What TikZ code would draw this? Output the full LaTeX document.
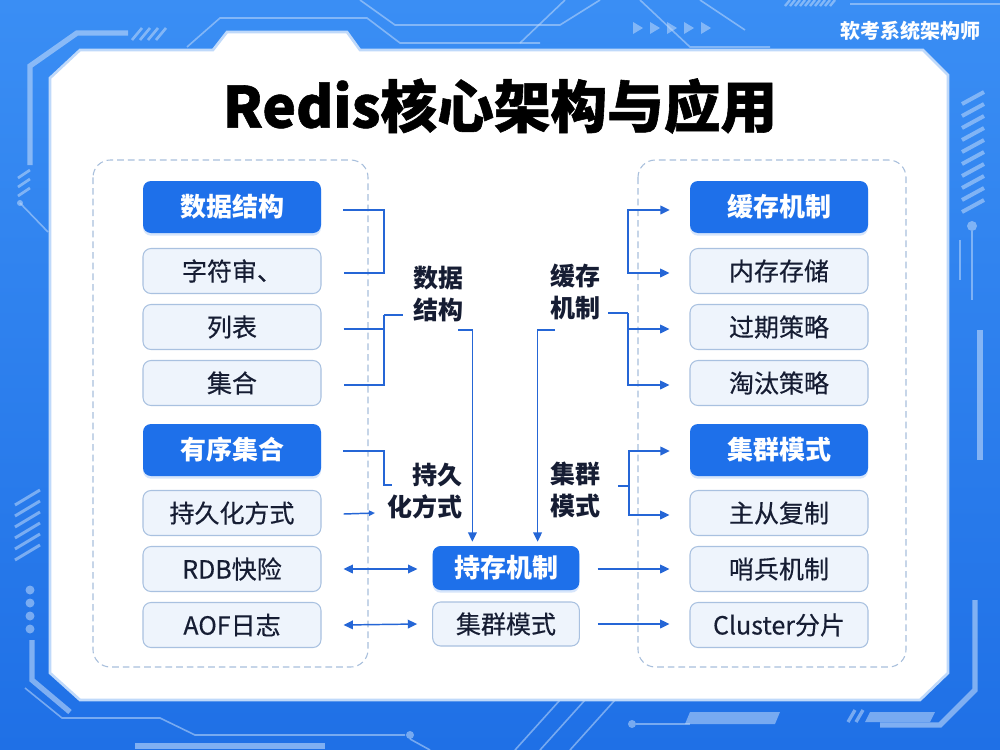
\documentclass[tikz,border=0pt]{standalone}
\usepackage{fontspec}
\setmainfont{Noto Sans CJK SC}
\usetikzlibrary{arrows.meta,calc,shadows}
\definecolor{bgA}{HTML}{3A8EF4}
\definecolor{bgB}{HTML}{1F70E6}
\definecolor{fillblue}{HTML}{1E70EA}
\definecolor{lightfill}{HTML}{EEF4FC}
\definecolor{lightline}{HTML}{A9C1E0}
\definecolor{conn}{HTML}{2566D6}
\definecolor{grp}{HTML}{A8BFDC}
\definecolor{txt}{HTML}{161D33}
\definecolor{deco}{HTML}{BFD9FA}
\begin{document}
\begin{tikzpicture}[x=0.75pt,y=-0.75pt,
  darkbox/.style={rectangle,rounded corners=6pt,fill=fillblue,text=white,
    minimum width=133.5pt,minimum height=39pt,inner sep=0pt,
    font=\fontsize{19.5}{22}\selectfont\bfseries,
    drop shadow={opacity=0.18,shadow xshift=0pt,shadow yshift=-2pt,fill=fillblue}},
  litebox/.style={rectangle,rounded corners=6pt,fill=lightfill,draw=lightline,line width=0.8pt,
    text=txt,minimum width=133.5pt,minimum height=33.75pt,inner sep=0pt,
    font=\fontsize{18.75}{22}\selectfont\addfontfeature{FakeBold=0.4}},
  midbox/.style={minimum width=110pt,minimum height=33pt},
  grpbox/.style={draw=grp,line width=0.8pt,dash pattern=on 5pt off 3pt,rounded corners=13pt},
  lbl/.style={text=txt,font=\fontsize{18.75}{24}\selectfont\bfseries,inner sep=0pt},
  conn/.style={draw=conn,line width=1.1pt},
  arr/.style={conn,-{Triangle[length=7pt,width=6.5pt]}},
  sarr/.style={conn,-{Triangle[length=4.5pt,width=4pt]}},
  darr/.style={conn,{Triangle[length=7pt,width=6.5pt]}-{Triangle[length=7pt,width=6.5pt]}},
  decoline/.style={draw=deco,line width=1.2pt,opacity=0.55},
  decoband/.style={draw=deco,line width=4pt,opacity=0.6},
  decofill/.style={fill=deco,opacity=0.55}
]
\useasboundingbox (0,0) rectangle (1000,750);
% background
\shade[top color=bgA,bottom color=bgB] (0,0) rectangle (1000,750);
% ---- decorations ----
\draw[decoband] (128,33) -- (77,33) -- (30,66) -- (30,165);
\foreach \i in {0,1,2,3} \draw[decoline,line width=2pt] ({132+8*\i},40) -- ({142+8*\i},28);
\foreach \i in {0,1,2} \draw[decoline,line width=2pt] (18,{178+9*\i}) -- (30,{170+9*\i});
\draw[decoline] (20,203) -- (48,232);
\fill[decofill] (20,203) circle (3);
\draw[decoline] (187,47) -- (220,18) -- (367,18) -- (400,43) -- (540,43);
\draw[decoline] (360,0) -- (395,25) -- (560,25) -- (600,0);
\draw[decoline] (520,43) -- (565,0);
\draw[decoline] (640,0) -- (690,47) -- (770,47);
\draw[decoline] (700,0) -- (745,30);
\foreach \i in {0,...,4} \fill[decofill] ({633+17*\i},22) -- ({643+17*\i},28) -- ({633+17*\i},34) -- cycle;
\foreach \i in {0,...,9} \draw[decoline,line width=1.8pt] ({785+5*\i},6) -- ({790+5*\i},0);
\draw[decoline] (850,4) -- (1000,4);
\foreach \i in {0,...,9} \draw[decoline,line width=3pt] (962,{104+12*\i}) -- (984,{92+12*\i});
\fill[decofill] (972,226) circle (5);
\draw[decoline] (972,231) -- (972,300);
\draw[decoline] (960,240) -- (960,280);
\draw[decoband] (980,330) -- (980,460);
\foreach \i in {0,...,3} \fill[decofill] (30,{590+13*\i}) circle (4.5);
\foreach \i in {0,...,5} \draw[decoline,line width=2.2pt] (15,{505+11*\i}) -- (40,{490+11*\i});
\draw[decoband] (32,640) -- (32,680) -- (70,712);
\draw[decoline] (25,688) -- (62,718) -- (160,718) -- (195,735) -- (405,735);
\fill[decofill] (410,735) circle (4);
\draw[decoline] (410,739) -- (430,750);
\draw[decoband] (135,746) -- (325,746);
\draw[decoline] (560,700) -- (515,750);
\draw[decoline] (585,700) -- (540,750);
\draw[decoline] (615,700) -- (570,750);
\fill[decofill] (632,724) circle (4);
\draw[decoline] (636,724) -- (690,724);
\fill[decofill] (690,712) -- (780,712) -- (775,724) -- (685,724) -- cycle;
\foreach \i in {0,1} \draw[decoline,line width=2.5pt] ({848+8*\i},722) -- ({855+8*\i},710);
\fill[decofill] (870,712) -- (935,712) -- (930,722) -- (865,722) -- cycle;
\draw[decoband] (975,600) -- (975,690) -- (940,725) -- (880,725);
% ---- panel ----
\fill[white,draw=deco,line width=2pt]
  (80,50) -- (213,50) -- (227,32) -- (347,32) -- (360,50) -- (923,50) -- (948,75)
  -- (948,673) -- (920,700) -- (80,700) -- (50,673) -- (50,78) -- cycle;
% ---- title and watermark ----
\node[font=\fontsize{42.5}{46}\selectfont\bfseries\addfontfeature{FakeBold=1},text=black,inner sep=0pt] (title) at (500,106) {Redis核心架构与应用};
\node[font=\fontsize{15}{18}\selectfont\bfseries,text=white,inner sep=0pt] (wm) at (910,31) {软考系统架构师};
% ---- group boxes ----
\draw[grpbox] (93,160) rectangle (368,667);
\draw[grpbox] (638,160) rectangle (906,667);
% ---- left column ----
\node[darkbox] (ds) at (232,207) {数据结构};
\node[litebox] (str) at (232,271) {字符审、};
\node[litebox] (lst) at (232,327) {列表};
\node[litebox] (set) at (232,383) {集合};
\node[darkbox] (zs) at (232,450) {有序集合};
\node[litebox] (pw) at (232,513) {持久化方式};
\node[litebox] (rdb) at (232,569) {RDB快险};
\node[litebox] (aof) at (232,625) {AOF日志};
% ---- right column ----
\node[darkbox] (cm) at (779,207) {缓存机制};
\node[litebox] (mem) at (779,271) {内存存储};
\node[litebox] (exp) at (779,327) {过期策略};
\node[litebox] (evi) at (779,383) {淘汰策略};
\node[darkbox] (cl) at (779,450) {集群模式};
\node[litebox] (ms) at (779,513) {主从复制};
\node[litebox] (sb) at (779,569) {哨兵机制};
\node[litebox] (cs) at (779,625) {Cluster分片};
% ---- centre ----
\node[darkbox,midbox] (pm) at (506,568) {持存机制};
\node[litebox,midbox] (cmode) at (506,624) {集群模式};
% ---- labels ----
\node[lbl,align=center] (lds) at (438,294) {数据\\结构};
\node[lbl,align=center] (lcm) at (575,292) {缓存\\机制};
\node[lbl,align=right,anchor=east] (lpw) at (463,491) {持久\\化方式};
\node[lbl,align=center] (lcl) at (575,490) {集群\\模式};
% ---- coordinates ----
\coordinate (jA) at (384,240);
\coordinate (jB) at (384,315);
\coordinate (dsIn) at (403,315);
\coordinate (dsOut) at (458,330);
\coordinate (jC) at (384,485);
\coordinate (pwIn) at (392,485);
\coordinate (pwEnd) at (375,513);
\coordinate (cA) at (628,240);
\coordinate (cmOut) at (608,313);
\coordinate (cB) at (628,313);
\coordinate (cmLblOut) at (555,330);
\coordinate (clOut) at (618,486);
\coordinate (cC) at (629,486);
% ---- left connectors ----
\draw[conn] ($(ds.east)+(22,3)$) -| (jA) |- ($(str.east)+(22,2)$);
\draw[conn] ($(lst.east)+(22,2)$) -| (jB) |- ($(set.east)+(22,2)$);
\draw[conn] (jB) -- (dsIn);
\draw[arr] (dsOut) -| ($(pm.north west)+(40,-4)$);
\draw[conn] ($(zs.east)+(22,1)$) -| (jC) -- (pwIn);
\draw[sarr] ($(pw.east)+(22,1)$) -- (pwEnd);
\draw[darr] ($(rdb.east)+(22,0)$) -- ($(pm.west)+(-15,1)$);
\draw[darr] ($(aof.east)+(22,0)$) -- ($(cmode.west)+(-15,0)$);
% ---- right connectors ----
\draw[arr] (cA) |- ($(cm.west)+(-20,3)$);
\draw[arr] (cA) |- ($(mem.west)+(-20,2)$);
\draw[conn] (cmOut) -- (cB);
\draw[arr] (cB) |- ($(exp.west)+(-20,2)$);
\draw[arr] (cB) |- ($(evi.west)+(-20,2)$);
\draw[arr] (cmLblOut) -| ($(pm.north east)+(-42,-4)$);
\draw[conn] (clOut) -- (cC);
\draw[arr] (cC) |- ($(cl.west)+(-20,1)$);
\draw[arr] (cC) |- ($(ms.west)+(-20,2)$);
\draw[arr] ($(pm.east)+(18,1)$) -- ($(sb.west)+(-20,0)$);
\draw[arr] ($(cmode.east)+(18,0)$) -- ($(cs.west)+(-20,-1)$);
\end{tikzpicture}
\end{document}
